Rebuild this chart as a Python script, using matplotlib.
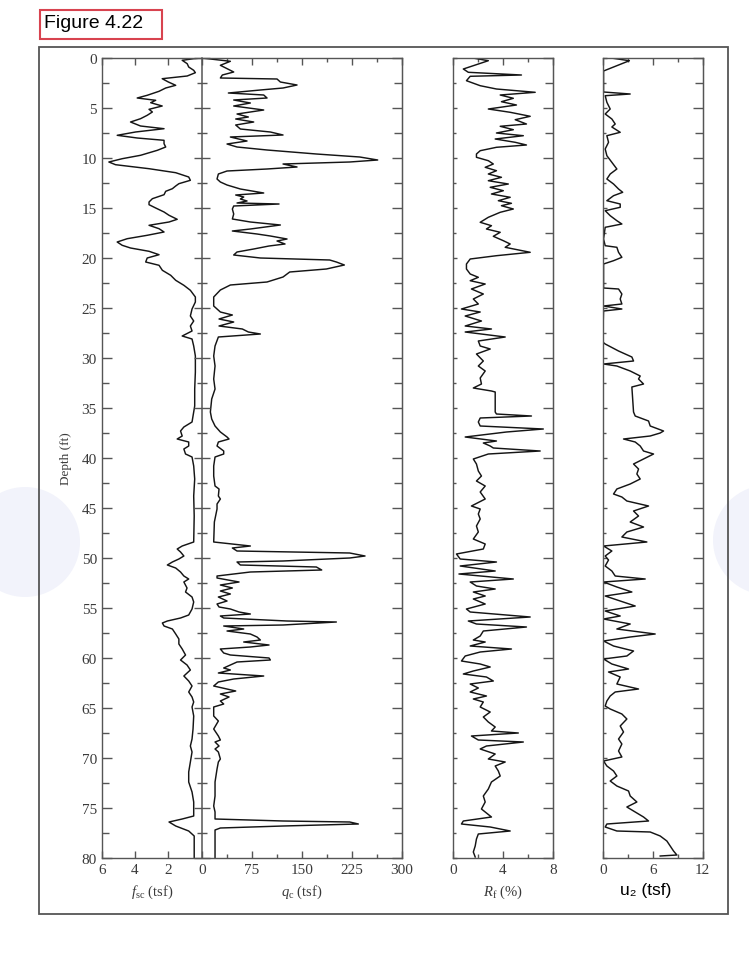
import matplotlib
matplotlib.use("Agg")
import matplotlib.pyplot as plt
from matplotlib.patches import Rectangle, Circle
from matplotlib.transforms import IdentityTransform
from matplotlib.ticker import MultipleLocator, FixedLocator

plt.rcParams['font.family'] = ['Liberation Serif', 'DejaVu Serif']
plt.rcParams['mathtext.fontset'] = 'custom'
plt.rcParams['mathtext.rm'] = 'Liberation Serif'
plt.rcParams['mathtext.it'] = 'Liberation Serif:italic'

# ---- data ----
qc_depth = [0, 0.33, 0.73, 1.4, 1.7, 2.0, 2.1, 2.4, 2.7, 3.0, 3.2, 3.5, 3.7, 4.0, 4.2, 4.5, 4.8, 5.2,
            5.6, 5.9, 6.1, 6.4, 6.7, 7.1, 7.4, 7.7, 7.9, 8.3, 8.6, 8.9, 9.2, 9.6, 9.9, 10.2, 10.4,
            10.6, 10.9, 11.1, 11.3, 11.6, 12.1, 12.4, 12.7, 13.1, 13.5, 13.7, 13.9, 14.1, 14.3,
            14.5, 14.6, 14.8, 15.1, 15.6, 16.1, 16.4, 16.7, 17.1, 17.3, 17.6, 17.8, 18.1, 18.3,
            18.6, 18.8, 19.1, 19.4, 19.7, 20.0, 20.2, 20.4, 20.7, 21.1, 21.4, 21.9, 22.4, 22.7,
            23.2, 23.9, 24.8, 25.4, 25.7, 26.1, 26.4, 26.8, 27.1, 27.4, 27.6, 27.9, 28.8, 29.8,
            30.8, 32.1, 33.1, 34.1, 35.4, 36.1, 36.8, 37.4, 37.9, 38.1, 38.4, 38.8, 39.3, 39.6,
            39.9, 40.8, 41.8, 42.8, 43.1, 43.8, 44.1, 44.6, 45.1, 46.4, 48.4, 48.6, 48.8, 49.0,
            49.3, 49.5, 49.8, 50.0, 50.3, 50.4, 50.7, 50.9, 51.2, 51.4, 51.8, 52.0, 52.4, 52.7,
            53.0, 53.3, 53.6, 53.9, 54.3, 54.6, 54.9, 55.1, 55.4, 55.6, 55.8, 56.0, 56.3, 56.4,
            56.7, 56.8, 57.1, 57.3, 57.6, 57.9, 58.2, 58.4, 58.7, 58.9, 59.1, 59.5, 59.7, 60.0,
            60.2, 60.4, 60.7, 61.0, 61.2, 61.5, 61.8, 62.1, 62.4, 62.8, 63.3, 63.6, 63.9, 64.3,
            64.6, 64.9, 65.8, 66.3, 67.1, 67.8, 68.2, 68.4, 68.8, 69.1, 69.4, 70.1, 70.4, 71.1,
            72.4, 73.8, 74.8, 75.4, 76.1, 76.3, 76.4, 76.6, 76.8, 77.0, 77.2, 78.4, 80.0]
qc = [0, 43, 28, 48, 31, 28, 113, 118, 143, 122, 88, 40, 93, 98, 48, 73, 48, 93,
      53, 70, 51, 78, 51, 58, 103, 122, 43, 68, 38, 53, 98, 172, 237, 264, 222,
      122, 143, 98, 38, 25, 23, 28, 38, 58, 93, 51, 63, 58, 68,
      53, 116, 48, 46, 48, 46, 73, 118, 73, 46, 83, 103, 128, 113,
      125, 101, 78, 53, 48, 88, 192, 202, 214, 187, 132, 122, 98, 43,
      28, 18, 18, 28, 46, 26, 48, 26, 61, 70, 88, 25, 20, 18,
      20, 18, 20, 15, 13, 15, 20, 28, 38, 41, 25, 23, 33, 33,
      20, 18, 18, 20, 26, 25, 28, 23, 23, 19, 18, 46, 73, 46,
      53, 222, 245, 222, 122, 53, 58, 172, 180, 73, 23, 23, 56, 28,
      46, 28, 43, 25, 38, 23, 26, 43, 56, 73, 28, 33, 128, 202,
      122, 33, 63, 38, 73, 83, 88, 63, 101, 73, 28, 33, 43, 101,
      103, 53, 43, 33, 43, 25, 93, 48, 25, 18, 51, 28, 41, 28,
      33, 18, 18, 25, 18, 25, 28, 20, 26, 20, 25, 28, 25, 23,
      20, 20, 18, 20, 20, 122, 222, 235, 122, 28, 20, 20, 20]

fsc_depth = [0, 0.07, 0.23, 0.57, 0.9, 1.23, 1.47, 1.8, 2.07, 2.4, 2.73, 3.0, 3.33, 3.73, 4.0,
             4.23, 4.47, 4.8, 5.13, 5.4, 5.73, 6.07, 6.4, 6.8, 7.07, 7.4, 7.73, 8.0, 8.23, 8.57,
             8.9, 9.23, 9.73, 10.07, 10.4, 10.67, 11.07, 11.47, 11.9, 12.23, 12.57, 12.8, 13.07,
             13.33, 13.67, 14.07, 14.4, 14.67, 15.0, 15.4, 15.73, 16.13, 16.4, 16.73, 17.07,
             17.4, 17.73, 18.07, 18.4, 18.73, 19.0, 19.33, 19.67, 20.0, 20.4, 20.73, 21.23,
             21.73, 22.23, 22.73, 23.23, 23.9, 24.4, 25.1, 25.8, 26.3, 26.8, 27.3, 27.8, 28.1,
             28.8, 29.8, 31.4, 33.1, 34.8, 35.8, 36.4, 36.9, 37.3, 37.8, 38.1, 38.4, 38.8, 39.1,
             39.6, 39.9, 40.8, 42.1, 43.8, 45.8, 48.4, 48.8, 49.1, 49.4, 49.8, 50.1, 50.4, 50.7,
             51.0, 51.4, 51.8, 52.1, 52.4, 53.0, 53.4, 53.9, 54.4, 55.1, 55.7, 56.0, 56.3, 56.5,
             56.8, 57.1, 57.6, 58.1, 58.6, 59.1, 59.7, 60.2, 60.7, 61.2, 61.8, 62.3, 62.8, 63.4,
             63.9, 64.4, 64.9, 65.8, 67.1, 68.1, 68.8, 69.4, 70.4, 71.4, 72.4, 73.4, 74.4, 75.8,
             76.1, 76.4, 76.8, 77.3, 77.8, 80.0]
fsc = [0, 0.48, 1.17, 0.87, 0.78, 0.48, 0.38, 0.87, 2.37, 2.0, 1.56, 2.16, 2.56, 3.27, 3.87,
       2.76, 3.06, 2.37, 3.16, 2.96, 3.27, 3.67, 4.27, 3.67, 2.26, 3.97, 5.07, 3.87, 2.26, 2.26,
       2.16, 2.66, 3.67, 4.77, 5.57, 5.17, 3.16, 1.56, 0.78, 0.68, 1.37, 1.56, 1.76,
       2.16, 2.26, 2.96, 3.16, 3.16, 2.76, 2.26, 1.96, 1.47, 1.96, 3.16, 2.56,
       2.26, 3.27, 4.47, 5.07, 4.77, 4.27, 3.16, 2.56, 3.27, 3.36, 2.56, 2.36,
       1.86, 1.56, 1.07, 0.68, 0.38, 0.38, 0.58, 0.68, 0.48, 0.68, 0.58, 1.17, 0.58,
       0.48, 0.38, 0.38, 0.42, 0.42, 0.52, 0.58, 1.07, 1.27, 1.17, 1.47, 0.78, 0.78, 1.07,
       0.97, 0.58, 0.48, 0.42, 0.48, 0.45, 0.48, 1.17, 1.47, 1.27, 1.07, 1.37, 1.76, 2.06,
       1.56, 1.27, 1.07, 0.78, 1.07, 0.88, 0.97, 0.58, 0.48, 0.58, 0.78, 1.27, 2.06, 2.36,
       2.26, 1.76, 1.56, 1.37, 1.37, 1.17, 0.97, 1.27, 0.88, 0.68, 1.07, 0.78, 0.58, 0.78,
       0.58, 0.48, 0.58, 0.48, 0.52, 0.58, 0.68, 0.58, 0.68, 0.78, 0.78, 0.58, 0.48, 0.48,
       1.17, 1.96, 1.56, 0.78, 0.45, 0.45]

rf_depth = [0, 0.27, 0.6, 1.1, 1.43, 1.7, 1.83, 2.27, 2.77, 3.1, 3.43, 3.7, 4.03, 4.37, 4.7, 5.1,
            5.43, 5.83, 6.17, 6.6, 6.83, 7.17, 7.5, 7.77, 8.1, 8.43, 8.7, 8.93, 9.27, 9.6, 9.93,
            10.27, 10.6, 10.93, 11.27, 11.6, 11.93, 12.27, 12.6, 12.93, 13.27, 13.6, 13.93,
            14.27, 14.53, 14.77, 15.1, 15.43, 15.93, 16.43, 16.77, 17.1, 17.43, 17.83, 18.27,
            18.6, 18.93, 19.43, 19.77, 20.1, 20.6, 21.1, 21.6, 21.93, 22.27, 22.6, 23.1, 23.6,
            24.1, 24.6, 25.1, 25.4, 25.8, 26.3, 26.8, 27.1, 27.4, 27.9, 28.3, 28.8, 29.1, 29.6,
            30.3, 30.8, 31.3, 32.0, 32.6, 33.0, 33.3, 33.4, 35.4, 35.6, 35.8, 36.0, 36.4, 36.8,
            37.1, 37.4, 37.6, 37.9, 38.3, 38.5, 38.8, 39.0, 39.3, 39.6, 40.1, 40.6, 41.3, 41.8,
            42.3, 42.8, 43.4, 44.1, 44.8, 45.1, 45.6, 46.1, 46.8, 47.4, 48.1, 48.6, 49.1, 49.6,
            50.1, 50.4, 50.8, 51.3, 51.6, 52.1, 52.4, 52.8, 53.1, 53.4, 53.8, 54.1, 54.6, 55.1,
            55.4, 55.9, 56.3, 56.6, 56.9, 57.3, 57.8, 58.2, 58.4, 58.8, 59.1, 59.4, 59.8, 60.3,
            60.6, 60.9, 61.3, 61.6, 61.9, 62.3, 62.6, 63.0, 63.4, 63.8, 64.1, 64.4, 64.9, 65.4,
            65.9, 66.4, 66.9, 67.3, 67.5, 67.8, 68.2, 68.4, 68.8, 69.1, 69.6, 70.1, 70.4, 70.8,
            71.3, 71.8, 72.4, 73.1, 73.8, 74.4, 75.1, 75.9, 76.3, 76.6, 76.9, 77.3, 77.6, 78.1,
            78.8, 79.4, 79.9]
rf = [1.6, 2.85, 2.05, 0.85, 1.25, 5.5, 1.4, 1.1, 2.2, 3.5, 6.6, 3.8, 4.85, 3.9, 5.1, 2.85,
      4.6, 6.2, 5.0, 5.9, 3.8, 4.85, 3.5, 5.65, 3.4, 5.0, 5.9, 3.5, 2.2, 1.9, 1.9,
      2.85, 3.25, 2.6, 3.5, 2.85, 3.9, 2.85, 4.45, 3.0, 4.05, 3.1, 4.6,
      3.65, 4.7, 3.9, 4.85, 3.8, 2.85, 2.2, 3.1, 2.7, 3.8, 3.25, 4.05,
      4.6, 4.2, 6.2, 3.5, 1.4, 1.1, 1.1, 1.4, 2.05, 1.4, 2.6, 1.5, 2.45,
      1.65, 2.05, 0.7, 2.2, 1.0, 2.3, 1.0, 3.1, 1.0, 4.2, 2.05, 2.2, 3.0, 1.9,
      2.45, 2.05, 2.6, 2.2, 2.3, 1.65, 3.1, 3.4, 3.4, 3.5, 6.3, 2.2, 2.05, 2.2,
      7.25, 4.3, 3.0, 1.0, 3.5, 2.45, 3.0, 3.25, 7.0, 2.85, 1.65, 1.9, 2.05, 2.3,
      1.9, 2.6, 2.2, 2.6, 1.5, 2.2, 2.05, 2.2, 1.9, 2.05, 1.65, 2.6, 2.45, 0.3,
      0.6, 3.5, 0.6, 3.4, 0.5, 4.85, 1.4, 1.9, 3.4, 1.65, 2.6, 1.65, 2.6, 1.1,
      1.4, 6.2, 1.25, 1.9, 5.9, 2.45, 2.2, 1.65, 2.6, 1.4, 4.7, 2.2, 1.0, 0.7,
      2.2, 3.0, 1.65, 0.85, 2.7, 3.25, 1.4, 2.05, 1.4, 2.7, 1.65, 2.45, 2.2, 3.0,
      2.45, 2.85, 3.4, 3.1, 5.25, 1.5, 2.05, 5.65, 2.7, 2.2, 3.4, 2.85, 4.2, 3.4,
      3.65, 3.8, 3.1, 2.85, 2.45, 2.6, 2.3, 3.1, 0.85, 0.7, 3.0, 4.6, 2.05, 1.9,
      1.8, 1.65, 1.8]

u2_depth = [0, 0.27, 1.3, 3.4, 3.6, 3.77, 4.43, 5.1, 5.6, 6.1, 6.6, 6.9, 7.43, 7.77, 8.43, 9.1,
            9.77, 10.43, 11.1, 11.6, 12.1, 12.6, 13.1, 13.43, 13.77, 14.27, 14.6, 14.93, 15.27,
            15.77, 16.27, 16.6, 16.93, 18.1, 18.77, 18.93, 19.43, 19.93, 20.27, 20.6, 23.0,
            23.1, 23.6, 24.1, 24.6, 24.8, 25.1, 25.3, 28.4, 28.6, 29.3, 29.9, 30.3, 30.6, 30.8,
            31.3, 31.8, 32.1, 32.6, 32.9, 35.4, 35.8, 36.3, 36.8, 37.3, 37.5, 37.8, 38.1, 38.4,
            38.8, 39.3, 39.6, 40.1, 40.6, 41.1, 41.6, 42.1, 42.6, 43.1, 43.6, 43.9, 44.3, 44.8,
            45.3, 45.8, 46.4, 46.9, 47.4, 47.9, 48.4, 48.8, 49.3, 49.8, 50.2, 50.8, 51.3, 51.8,
            52.1, 52.4, 52.9, 53.4, 53.8, 54.3, 54.8, 55.3, 55.8, 56.1, 56.6, 57.1, 57.6, 57.9,
            58.3, 58.8, 59.3, 59.8, 60.1, 60.6, 61.1, 61.4, 61.9, 62.6, 63.1, 63.4, 63.8, 64.3,
            64.8, 65.1, 65.6, 66.1, 66.8, 67.4, 68.1, 68.6, 69.3, 69.9, 70.3, 70.8, 71.3, 71.8,
            72.3, 72.8, 73.3, 73.8, 74.4, 74.9, 75.4, 75.9, 76.3, 76.6, 76.9, 77.3, 77.4, 77.8,
            78.3, 78.8, 79.3, 79.7, 79.8]
u2 = [1.0, 3.2, 0.1, 0.1, 3.3, 0.3, 0.5, 0.9, 0.3, 1.1, 1.5, 1.1, 2.1, 0.5, 0.7, 0.3,
      0.5, 1.1, 1.7, 0.9, 0.5, 1.3, 1.9, 2.4, 1.3, 0.5, 2.1, 2.1, 0.3,
      0.9, 1.7, 2.3, 0.3, 0.1, 0.3, 1.7, 1.9, 2.3, 1.3, 0.1, 0.1,
      1.9, 2.3, 2.1, 2.3, 0.1, 2.3, 0.1, 0.0, 0.3, 1.9, 3.5, 3.7, 0.1, 1.7,
      3.3, 4.5, 4.3, 4.9, 3.5, 3.7, 3.9, 5.5, 5.7, 7.3, 6.9, 5.7, 2.5, 3.9,
      4.5, 4.9, 6.1, 4.9, 3.7, 4.3, 4.1, 4.5, 3.3, 1.7, 1.3, 2.3, 2.9, 5.5,
      3.7, 4.3, 3.3, 4.9, 2.9, 2.3, 5.3, 0.1, 1.1, 0.3, 0.7, 0.3, 1.1, 1.5,
      5.1, 0.1, 1.7, 3.5, 0.3, 2.1, 3.9, 0.3, 2.1, 0.1, 3.3, 1.7, 6.3, 3.3,
      0.1, 1.3, 3.7, 2.9, 0.1, 1.1, 3.1, 0.7, 2.1, 1.7, 4.3, 1.5, 0.9, 0.5,
      0.3, 0.9, 2.3, 2.9, 2.1, 2.5, 1.9, 2.3, 1.9, 2.3, 0.1, 0.5, 1.3, 1.7,
      0.9, 1.7, 3.1, 3.3, 4.1, 2.9, 3.9, 4.9, 5.5, 0.5, 0.3, 1.7, 5.7, 6.9,
      7.7, 8.1, 8.5, 8.9, 6.9]

fsc_ticks = [6, 4, 2]
qc_ticks = [0, 75, 150, 225, 300]
FSC_SCALE = 25  # 1 tsf of f_sc drawn as 25 units on the q_c scale

W, H = 749, 954
fig = plt.figure(figsize=(W / 100, H / 100), dpi=100)

SPINE = '#555555'
TXT = '#3a3a3a'
LINE = '#151515'
LW = 1.05


def panel_rect(x0, x1):
    return [x0 / W, 95 / H, (x1 - x0) / W, 800 / H]


def depth_axis(ax, left_len, right_len, labels=False):
    ax.set_ylim(80, 0)
    ax.yaxis.set_major_locator(MultipleLocator(5))
    ax.yaxis.set_minor_locator(MultipleLocator(2.5))
    ax.tick_params(axis='y', which='major', direction='in', length=left_len,
                   width=1, color=SPINE, labelleft=labels, labelsize=11, labelcolor=TXT)
    ax.tick_params(axis='y', which='minor', direction='in', length=left_len * 0.7,
                   width=1, color=SPINE)
    sec = ax.secondary_yaxis('right')
    sec.yaxis.set_major_locator(MultipleLocator(5))
    sec.yaxis.set_minor_locator(MultipleLocator(2.5))
    sec.tick_params(which='major', direction='in', length=right_len, width=1,
                    color=SPINE, labelright=False)
    sec.tick_params(which='minor', direction='in', length=right_len * 0.8, width=1,
                    color=SPINE)
    sec.spines['right'].set_color(SPINE)
    for s in ax.spines.values():
        s.set_color(SPINE)
        s.set_linewidth(1.0)


def x_axis(ax, major, minor, labels):
    ax.xaxis.set_major_locator(FixedLocator(major))
    ax.xaxis.set_minor_locator(FixedLocator(minor))
    ax.set_xticklabels(labels)
    ax.tick_params(axis='x', which='major', direction='in', length=5, width=1,
                   color=SPINE, top=True, labelsize=11, labelcolor=TXT, pad=3.5)
    ax.tick_params(axis='x', which='minor', direction='in', length=3, width=1,
                   color=SPINE, top=True)


# background decorations of the screenshot
for cx, cy in [(25, H - 543), (768, H - 541)]:
    fig.patches.append(Circle((cx, cy), 55, transform=IdentityTransform(),
                              facecolor='#f2f3fb', edgecolor='none', zorder=0))
fig.patches.append(Rectangle((39 / W, 1 - 915 / H), 689 / W, 867 / H, transform=fig.transFigure,
                             fill=False, edgecolor='#555555', linewidth=1.3))
fig.patches.append(Rectangle((40 / W, 1 - 40 / H), 122 / W, 29 / H, transform=fig.transFigure,
                             fill=False, edgecolor='#d8434f', linewidth=1.5))
fig.text(44 / W, 1 - 24 / H, 'Figure 4.22', family=['Liberation Sans', 'DejaVu Sans'],
         fontsize=14, va='center', ha='left', color='black')

# ---- panel 1: f_sc (mirrored) and q_c ----
ax1 = fig.add_axes(panel_rect(101.7, 401.7))
ax1.plot(qc, qc_depth, color=LINE, lw=LW)
ax1.plot([-v * FSC_SCALE for v in fsc], fsc_depth, color=LINE, lw=LW)
ax1.set_xlim(-fsc_ticks[0] * FSC_SCALE, qc_ticks[-1])
depth_axis(ax1, 7, 7, labels=True)
x_axis(ax1, [-v * FSC_SCALE for v in fsc_ticks] + qc_ticks,
       [37.5, 112.5, 187.5, 262.5],
       [str(v) for v in fsc_ticks] + [str(v) for v in qc_ticks])
ax1.set_ylabel('Depth (ft)', fontsize=9.5, color=TXT, labelpad=7)
ax1.annotate(r'$f_{\rm sc}$ (tsf)', xy=(-75, 0), xycoords=('data', 'axes fraction'),
             xytext=(0, -24), textcoords='offset points', ha='center', va='center',
             fontsize=10.5, color=TXT)
ax1.annotate(r'$q_{\rm c}$ (tsf)', xy=(150, 0), xycoords=('data', 'axes fraction'),
             xytext=(0, -24), textcoords='offset points', ha='center', va='center',
             fontsize=10.5, color=TXT)

# zero line with its own ticks
ax0 = fig.add_axes(panel_rect(101.7, 401.7), sharey=ax1)
ax0.set_xlim(ax1.get_xlim())
ax0.patch.set_visible(False)
for s in ['right', 'top', 'bottom']:
    ax0.spines[s].set_visible(False)
ax0.spines['left'].set_position(('data', 0))
ax0.spines['left'].set_color(SPINE)
ax0.spines['left'].set_linewidth(1.1)
ax0.xaxis.set_visible(False)
ax0.tick_params(axis='y', which='major', direction='inout', length=11.5, width=1,
                color=SPINE, labelleft=False)
ax0.tick_params(axis='y', which='minor', direction='inout', length=7, width=1,
                color=SPINE)

# ---- panel 2: R_f ----
ax2 = fig.add_axes(panel_rect(452.7, 552.7))
ax2.plot(rf, rf_depth, color=LINE, lw=LW)
ax2.set_xlim(0, 8)
depth_axis(ax2, 3, 7)
x_axis(ax2, [0, 4, 8], [2, 6], ['0', '4', '8'])
ax2.annotate(r'$R_{\rm f}$ (%)', xy=(4, 0), xycoords=('data', 'axes fraction'),
             xytext=(0, -24), textcoords='offset points', ha='center', va='center',
             fontsize=10.5, color=TXT)

# ---- panel 3: u2 ----
ax3 = fig.add_axes(panel_rect(602.7, 702.7))
ax3.plot(u2, u2_depth, color=LINE, lw=LW)
ax3.set_xlim(0, 12)
depth_axis(ax3, 3, 7)
x_axis(ax3, [0, 6, 12], [3, 9], ['0', '6', '12'])
ax3.annotate('u₂ (tsf)', xy=(5.1, 0), xycoords=('data', 'axes fraction'),
             xytext=(0, -23), textcoords='offset points', ha='center', va='center',
             fontsize=12.5, color='black', family=['Liberation Sans', 'DejaVu Sans'])

fig.savefig('out.png', dpi=100)
